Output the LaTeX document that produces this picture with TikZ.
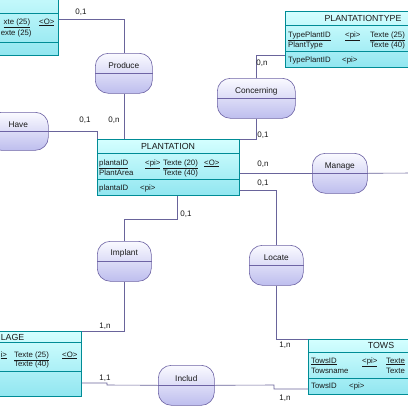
\documentclass[tikz,border=0pt]{standalone}
\usepackage{fontspec}
\setmainfont{Liberation Sans}
\usetikzlibrary{calc}
\definecolor{entline}{RGB}{0,140,150}
\definecolor{enttop}{RGB}{212,255,255}
\definecolor{entbot}{RGB}{145,230,240}
\definecolor{reltop}{RGB}{250,250,255}
\definecolor{relbot}{RGB}{190,190,238}
\definecolor{relline}{RGB}{110,100,165}
\definecolor{connc}{RGB}{105,100,155}
\definecolor{txt}{RGB}{25,25,25}
\begin{document}
\begin{tikzpicture}[x=1pt,y=-1pt,
  entity/.style={draw=entline, line width=0.6pt, top color=enttop, bottom color=entbot, rectangle, inner sep=0, anchor=north west},
  relbox/.style={draw=relline, line width=0.6pt, top color=reltop, bottom color=relbot, rectangle, rounded corners=13pt, inner sep=0, anchor=north west},
  sep/.style={draw=entline, line width=0.6pt},
  relsep/.style={draw=relline, line width=0.6pt},
  connector/.style={draw=connc, line width=0.6pt},
  card/.style={font=\fontsize{8}{9}\selectfont, text=txt, inner sep=0},
  etitle/.style={font=\fontsize{8.8}{10}\selectfont, text=txt, inner sep=0},
  attr/.style={font=\fontsize{7.8}{9}\selectfont, text=txt, inner sep=0, anchor=base west},
  attre/.style={attr, anchor=base east},
  reltext/.style={font=\fontsize{8.3}{10}\selectfont, text=txt, inner sep=0}]
\useasboundingbox (0,0) rectangle (408,408);
\clip (0,0) rectangle (408,408);
\fill[white] (0,0) rectangle (408,408);

% ---------- entities ----------
\node[entity, minimum width=128pt, minimum height=75pt] (e1) at (-70,-20) {};
\draw[sep] (e1.west |- 0,13) -- (e1.east |- 0,13);
\draw[sep] (e1.west |- 0,42) -- (e1.east |- 0,42);
\node[attr] (e1a) at (3.5,24) {\underline{xte (25)}};
\node[attr] (e1b) at (39,24) {\underline{<O>}};
\node[attr] (e1c) at (0.6,35) {exte (25)};

\node[entity, minimum width=190pt, minimum height=56pt] (ptype) at (285,11) {};
\draw[sep] (ptype.west |- 0,25) -- (ptype.east |- 0,25);
\draw[sep] (ptype.west |- 0,51) -- (ptype.east |- 0,51);
\node[etitle] (ptypeT) at (363,18) {PLANTATIONTYPE};
\node[attr] (pt1) at (288,37) {\underline{TypePlantID}};
\node[attr] (pt2) at (345,37) {\underline{<pi>}};
\node[attr] (pt3) at (370,37) {\underline{Texte (25)}};
\node[attr] (pt4) at (288,47) {PlantType};
\node[attr] (pt5) at (370,47) {Texte (40)};
\node[attr] (pt6) at (288,62) {TypePlantID};
\node[attr] (pt7) at (342,62) {<pi>};

\node[entity, minimum width=142pt, minimum height=56pt] (plant) at (97,139) {};
\draw[sep] (plant.west |- 0,153) -- (plant.east |- 0,153);
\draw[sep] (plant.west |- 0,179) -- (plant.east |- 0,179);
\node[etitle] (plantT) at (168,146) {PLANTATION};
\node[attr] (pl1) at (99,165) {\underline{plantaID}};
\node[attr] (pl2) at (145,165) {\underline{<pi>}};
\node[attr] (pl3) at (163,165) {\underline{Texte (20)}};
\node[attr] (pl4) at (204,165) {\underline{<O>}};
\node[attr] (pl5) at (99,175) {PlantArea};
\node[attr] (pl6) at (163,175) {Texte (40)};
\node[attr] (pl7) at (99,190) {plantaID};
\node[attr] (pl8) at (140,190) {<pi>};

\node[entity, minimum width=161pt, minimum height=65pt] (village) at (-80,331) {};
\draw[sep] (village.west |- 0,342) -- (village.east |- 0,342);
\draw[sep] (village.west |- 0,371) -- (village.east |- 0,371);
\node[etitle, anchor=base west] (villageT) at (0.6,340) {LAGE};
\node[attr] (v1) at (0.4,357) {\underline{i>}};
\node[attr] (v2) at (14,357) {\underline{Texte (25)}};
\node[attr] (v3) at (62,357) {\underline{<O>}};
\node[attr] (v4) at (14,366) {Texte (40)};

\node[entity, minimum width=150pt, minimum height=55pt] (tows) at (308,339) {};
\draw[sep] (tows.west |- 0,352) -- (tows.east |- 0,352);
\draw[sep] (tows.west |- 0,378) -- (tows.east |- 0,378);
\node[etitle] (towsT) at (381,345) {TOWS};
\node[attr] (t1) at (311,363) {\underline{TowsID}};
\node[attr] (t2) at (362,363) {\underline{<pi>}};
\node[attr] (t3) at (386,363) {\underline{Texte}};
\node[attr] (t4) at (311,373) {Towsname};
\node[attr] (t5) at (386,373) {Texte};
\node[attr] (t6) at (311,388) {TowsID};
\node[attr] (t7) at (349,388) {<pi>};

% ---------- relationships ----------
\node[relbox, minimum width=57pt, minimum height=40pt] (produce) at (95,53) {};
\node[relbox, minimum width=60pt, minimum height=38pt] (have) at (-12,112) {};
\node[relbox, minimum width=78pt, minimum height=40pt] (concerning) at (217,78) {};
\node[relbox, minimum width=55pt, minimum height=40pt] (manage) at (312,153) {};
\node[relbox, minimum width=54pt, minimum height=40pt] (implant) at (97,241) {};
\node[relbox, minimum width=54pt, minimum height=40pt] (locate) at (249,245) {};
\node[relbox, minimum width=56pt, minimum height=40pt] (includ) at (158,365) {};
\foreach \r in {produce,have,concerning,manage,implant,locate,includ}
  \draw[relsep] (\r.west) -- (\r.east);
\node[reltext] (produceT) at ($(produce.center)+(0,-7.5)$) {Produce};
\node[reltext] (haveT) at ($(have.center)+(0,-7)$) {Have};
\node[reltext] (concerningT) at ($(concerning.center)+(0,-7)$) {Concerning};
\node[reltext] (manageT) at ($(manage.center)+(0,-7)$) {Manage};
\node[reltext] (implantT) at ($(implant.center)+(0,-7.5)$) {Implant};
\node[reltext] (locateT) at ($(locate.center)+(0,-7.5)$) {Locate};
\node[reltext] (includT) at ($(includ.center)+(0,-7)$) {Includ};

% ---------- connectors ----------
\draw[connector] (e1.east |- 0,19) -| (produce.north);
\draw[connector] (produce.south) -- (produce.south |- plant.north);
\draw[connector] (have.east) -| (plant.north west);
\draw[connector] (concerning.north) |- (ptype.west |- 0,55);
\draw[connector] (concerning.south) |- (plant.north east);
\draw[connector] (plant.east |- manage.west) -- (manage.west);
\coordinate (mgout) at (412,173);
\draw[connector] (manage.east) -- (mgout);
\draw[connector] (plant.east |- 0,190) -| (locate.north);
\draw[connector] (locate.south) |- (tows.north west);
\draw[connector] (plant.south -| 177,0) |- ($(implant.north)+(0,-22)$) -- (implant.north);
\draw[connector] (implant.south) |- (village.north east);
\draw[connector] (village.east |- 0,383) -- (107,383) -- (107,385) -- (includ.west);
\draw[connector] (includ.east) -- (274,385) -- (274,389) -- (tows.west |- 0,389);

% ---------- cardinalities ----------
\node[card] (c1) at (81,12) {0,1};
\node[card] (c2) at (114,120) {0,n};
\node[card] (c3) at (85,120) {0,1};
\node[card] (c4) at (262,63) {0,n};
\node[card] (c5) at (263,135) {0,1};
\node[card] (c6) at (263,164) {0,n};
\node[card] (c7) at (263,183) {0,1};
\node[card] (c8) at (186,214) {0,1};
\node[card] (c9) at (105,326) {1,n};
\node[card] (c10) at (105,378) {1,1};
\node[card] (c11) at (285,345) {1,n};
\node[card] (c12) at (285,398) {1,n};
\end{tikzpicture}
\end{document}
